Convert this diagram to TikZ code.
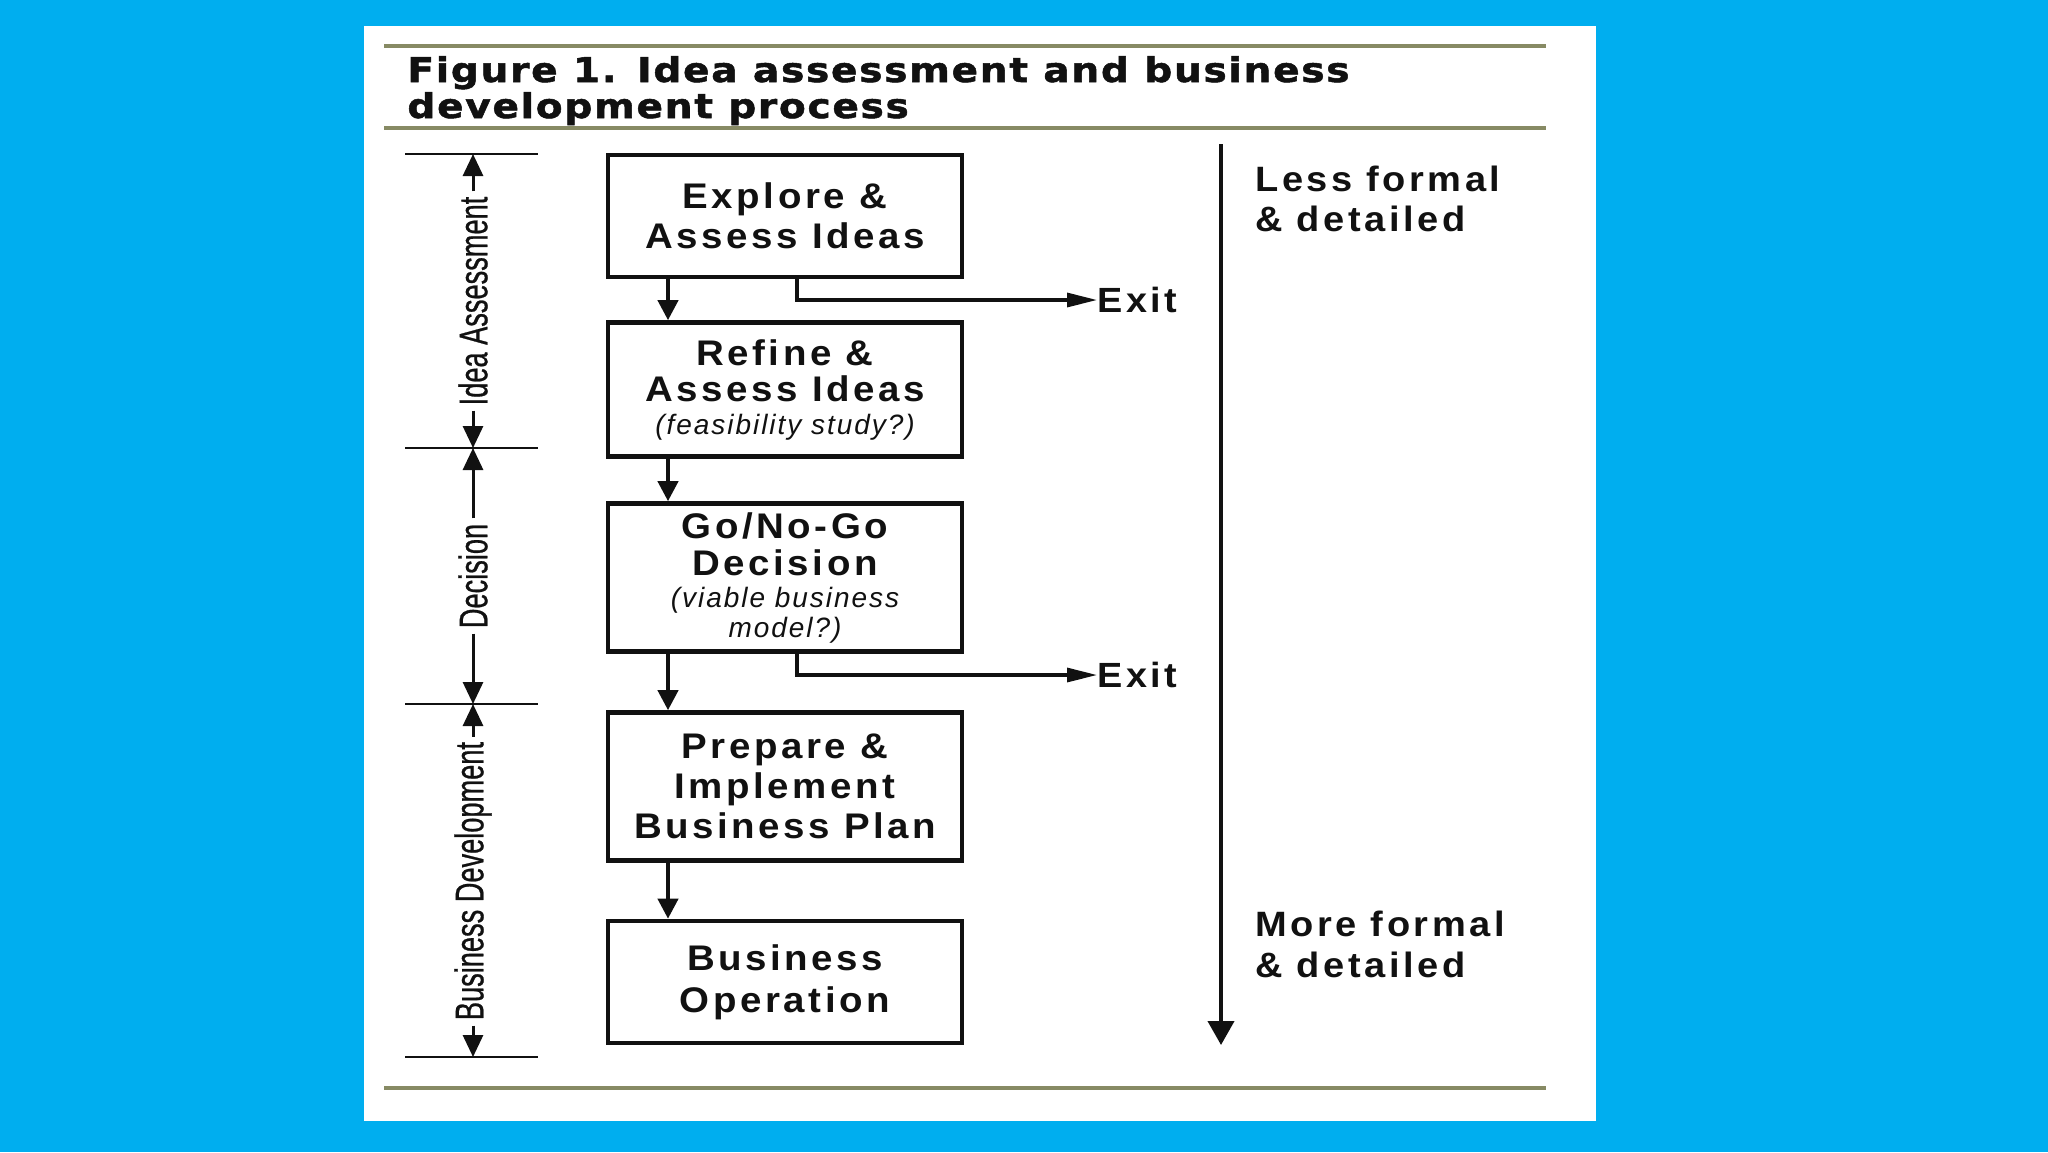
\documentclass[tikz,border=0pt]{standalone}
\usepackage{fontspec}
\setmainfont{Liberation Sans}
\newfontfamily\titlefont[FakeStretch=1.15,LetterSpace=5,FakeBold=1.5]{DejaVu Sans}
\newfontfamily\boxfont[FakeStretch=1.08,LetterSpace=10]{Liberation Sans}
\newfontfamily\notefont[LetterSpace=7]{Liberation Sans}
\newfontfamily\condfont[FakeStretch=0.68,FakeBold=0.6]{Liberation Sans}
\usetikzlibrary{arrows.meta}
\definecolor{bgblue}{RGB}{0,174,239}
\definecolor{rulecol}{RGB}{135,138,100}
\definecolor{ink}{RGB}{17,17,17}
\newcommand{\note}{\notefont\mdseries\itshape\fontsize{14}{15}\selectfont}
\tikzset{
  box/.style={draw=ink, text=ink, line width=2.3pt, minimum width=177pt, inner sep=0pt, align=center,
    font=\boxfont\bfseries\fontsize{17.8}{20}\selectfont},
  flow/.style={draw=ink, line width=2pt, -{Triangle[length=10pt,width=10pt]}},
  exitline/.style={draw=ink, line width=1.6pt, -{Triangle[length=15pt,width=7pt]}},
  exitlbl/.style={text=ink, inner sep=0pt, font=\boxfont\bfseries\fontsize{17.5}{20}\selectfont},
  side/.style={text=ink, inner sep=0pt, align=left, font=\boxfont\bfseries\fontsize{17.6}{20}\selectfont},
  phase/.style={text=ink, rotate=90, inner sep=2.5pt, font=\condfont\fontsize{20}{22}\selectfont},
  bar/.style={draw=ink, line width=1.5pt, -{Triangle[length=11pt,width=10pt]}},
  tick/.style={draw=ink, line width=1.4pt},
  big/.style={draw=ink, line width=2pt, -{Triangle[length=12pt,width=13pt]}},
  rulestyle/.style={draw=rulecol, line width=1.8pt}
}
\begin{document}
\begin{tikzpicture}[x=0.5pt,y=-0.5pt]
\fill[bgblue] (0,0) rectangle (2048,1152);
\useasboundingbox (0,0) rectangle (2048,1152);
\fill[white] (364,26) rectangle (1596,1121);
% rules
\draw[rulestyle] (384,46) -- (1546,46);
\draw[rulestyle] (384,128) -- (1546,128);
\draw[rulestyle] (384,1088) -- (1546,1088);
% title
\node[anchor=base west, inner sep=0pt, text=ink,
  font=\titlefont\bfseries\fontsize{17}{16}\selectfont] (title) at (407,82)
  {Figure 1. Idea assessment and business};
\node[anchor=base west, inner sep=0pt, text=ink,
  font=\titlefont\bfseries\fontsize{17}{16}\selectfont] (title2) at (407,118)
  {development process};
% boxes
\node[box, minimum height=61pt] (b1) at (785,216) {Explore \&\\Assess Ideas};
\node[box, minimum height=67pt] (b2) at (785,389.5)
  {Refine \&\\[-2pt]Assess Ideas\\[-3.5pt]{\note (feasibility study?)}};
\node[box, minimum height=74pt] (b3) at (785,577.5)
  {Go/No-Go\\[-1.5pt]Decision\\[-4pt]{\note (viable business}\\[-5pt]{\note model?)}};
\node[box, minimum height=74pt] (b4) at (785,786.5) {Prepare \&\\Implement\\Business Plan};
\node[box, minimum height=61pt] (b5) at (785,982) {Business\\[1pt]Operation};
% exits
\node[exitlbl, anchor=west] (x1) at (1097,300) {Exit};
\node[exitlbl, anchor=west] (x2) at (1097,675) {Exit};
% flow connectors
\draw[flow] ([xshift=-58.5pt]b1.south) -- ([xshift=-58.5pt]b2.north);
\draw[flow] ([xshift=-58.5pt]b2.south) -- ([xshift=-58.5pt]b3.north);
\draw[flow] ([xshift=-58.5pt]b3.south) -- ([xshift=-58.5pt]b4.north);
\draw[flow] ([xshift=-58.5pt]b4.south) -- ([xshift=-58.5pt]b5.north);
\draw[exitline] ([xshift=6pt]b1.south) |- (x1.west);
\draw[exitline] ([xshift=6pt]b3.south) |- (x2.west);
% left phase bracket
\coordinate (t0) at (473,154);
\coordinate (t1) at (473,448);
\coordinate (t2) at (473,704);
\coordinate (t3) at (473,1057);
\foreach \t in {t0,t1,t2,t3}{\draw[tick] ([xshift=-34pt]\t) -- ([xshift=32.5pt]\t);}
\node[phase] (p1) at (473,301) {Idea Assessment};
\node[phase] (p2) at (473,576) {Decision};
\node[phase] (p3) at (473,881) {Business Development};
\draw[bar] (p1.east) -- (t0);
\draw[bar] (p1.west) -- (t1);
\draw[bar] (p2.east) -- (t1);
\draw[bar] (p2.west) -- (t2);
\draw[bar] (p3.east) -- (t2);
\draw[bar] (p3.west) -- (t3);
% formality arrow
\coordinate (g0) at (1221,144);
\coordinate (g1) at (1221,1045);
\draw[big] (g0) -- (g1);
\node[side, anchor=west] (lf) at (1255,199) {Less formal\\\& detailed};
\node[side, anchor=west] (mf) at (1255,944) {More formal\\[0.5pt]\& detailed};
\end{tikzpicture}
\end{document}
